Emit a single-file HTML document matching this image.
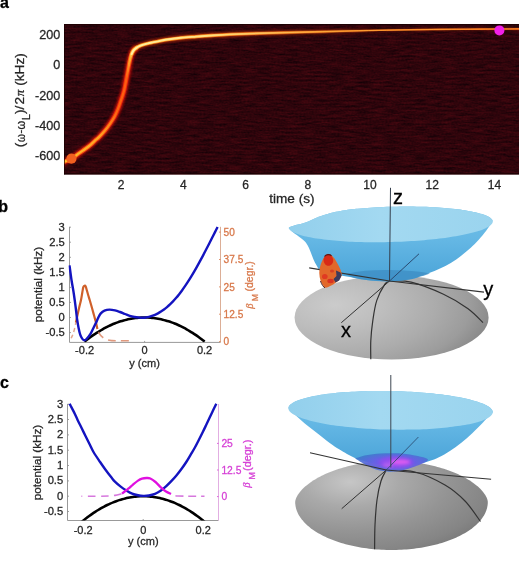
<!DOCTYPE html>
<html><head><meta charset="utf-8"><title>figure</title>
<style>
html,body{margin:0;padding:0;background:#fff;}
svg{display:block;font-family:'Liberation Sans', Arial, Helvetica, sans-serif;}
text{stroke:currentColor;stroke-width:0.28px;}
</style></head>
<body>
<svg width="520" height="571" viewBox="0 0 520 571">
<rect width="520" height="571" fill="#fff"/>

<defs>
  <clipPath id="clipA"><rect x="64.0" y="24.0" width="455.0" height="150.5"/></clipPath>
  <filter id="noise" x="0" y="0" width="100%" height="100%" color-interpolation-filters="sRGB">
    <feTurbulence type="fractalNoise" baseFrequency="0.07 0.5" numOctaves="2" seed="7" result="t1"/>
    <feColorMatrix in="t1" type="matrix" values="1 0 0 0 0  1 0 0 0 0  1 0 0 0 0  0 0 0 0 1" result="n1"/>
    <feTurbulence type="fractalNoise" baseFrequency="0.5 0.7" numOctaves="1" seed="3" result="t2"/>
    <feColorMatrix in="t2" type="matrix" values="1 0 0 0 0  1 0 0 0 0  1 0 0 0 0  0 0 0 0 1" result="n2"/>
    <feComposite in="n1" in2="n2" operator="arithmetic" k1="0" k2="0.65" k3="0.35" k4="0"/>
    <feComponentTransfer>
      <feFuncR type="linear" slope="0.38" intercept="-0.005"/>
      <feFuncG type="linear" slope="0.05" intercept="-0.005"/>
      <feFuncB type="linear" slope="0.07" intercept="0.012"/>
      <feFuncA type="linear" slope="0" intercept="1"/>
    </feComponentTransfer>
  </filter>
  <filter id="glow" x="-20%" y="-20%" width="140%" height="140%">
    <feGaussianBlur stdDeviation="1.0"/>
  </filter>
  <linearGradient id="gv" gradientUnits="userSpaceOnUse" x1="0" y1="166" x2="0" y2="44">
    <stop offset="0" stop-color="#ffc030"/>
    <stop offset="0.25" stop-color="#ffa020"/>
    <stop offset="0.45" stop-color="#ff6010"/>
    <stop offset="0.72" stop-color="#ff5a10"/>
    <stop offset="0.88" stop-color="#ffb030"/>
    <stop offset="1" stop-color="#fff0a0"/>
  </linearGradient>
  <linearGradient id="gvE" gradientUnits="userSpaceOnUse" x1="0" y1="166" x2="0" y2="44">
    <stop offset="0" stop-color="#ff6010"/>
    <stop offset="0.45" stop-color="#e82808"/>
    <stop offset="0.8" stop-color="#f03008"/>
    <stop offset="1" stop-color="#ffa020"/>
  </linearGradient>
  <linearGradient id="gh" gradientUnits="userSpaceOnUse" x1="132" y1="0" x2="520" y2="0">
    <stop offset="0" stop-color="#fff0a0"/>
    <stop offset="0.2" stop-color="#ffe080"/>
    <stop offset="0.5" stop-color="#ffb040"/>
    <stop offset="1" stop-color="#ff9030"/>
  </linearGradient>
  <linearGradient id="ghE" gradientUnits="userSpaceOnUse" x1="132" y1="0" x2="520" y2="0">
    <stop offset="0" stop-color="#ffa020"/>
    <stop offset="0.3" stop-color="#ff8018"/>
    <stop offset="1" stop-color="#e86010"/>
  </linearGradient>
</defs>
<linearGradient id="fadeG" gradientUnits="userSpaceOnUse" x1="200" y1="0" x2="380" y2="0">
  <stop offset="0" stop-color="#fff"/><stop offset="1" stop-color="#000"/></linearGradient>
<mask id="fadeM" maskUnits="userSpaceOnUse" x="0" y="0" width="520" height="200"><rect x="0" y="0" width="520" height="200" fill="url(#fadeG)"/></mask>
<g clip-path="url(#clipA)">
  <rect x="64.0" y="24.0" width="455.0" height="150.5" fill="#2a0405"/>
  <rect x="64.0" y="24.0" width="455.0" height="150.5" filter="url(#noise)"/>
  <path d="M61.00,163.60 C61.60,163.25 62.85,162.30 64.60,161.50 C66.35,160.70 69.07,160.20 71.50,158.80 C73.93,157.40 76.88,154.77 79.20,153.10 C81.52,151.43 83.47,150.22 85.40,148.80 C87.33,147.38 89.13,146.03 90.80,144.60 C92.47,143.17 94.08,141.40 95.40,140.20 C96.72,139.00 97.12,139.00 98.70,137.40 C100.28,135.80 103.00,132.90 104.90,130.60 C106.80,128.30 108.50,125.93 110.10,123.60 C111.70,121.27 113.18,119.05 114.50,116.60 C115.82,114.15 116.93,111.58 118.00,108.90 C119.07,106.22 120.18,102.57 120.90,100.50 C121.62,98.43 121.75,98.25 122.30,96.50 C122.85,94.75 123.65,92.25 124.20,90.00 C124.75,87.75 125.15,85.33 125.60,83.00 C126.05,80.67 126.47,78.33 126.90,76.00 C127.33,73.67 127.78,71.25 128.20,69.00 C128.62,66.75 129.03,64.33 129.40,62.50 C129.77,60.67 130.03,59.42 130.40,58.00 C130.77,56.58 131.07,55.28 131.60,54.00 C132.13,52.72 132.77,51.35 133.60,50.30 C134.43,49.25 136.10,48.13 136.60,47.70" fill="none" stroke="#c01008" stroke-width="7" filter="url(#glow)" opacity="0.85"/>
  <path d="M131.60,54.00 C131.93,53.38 132.77,51.35 133.60,50.30 C134.43,49.25 135.35,48.52 136.60,47.70 C137.85,46.88 139.33,46.08 141.10,45.40 C142.87,44.72 145.28,44.10 147.20,43.60 C149.12,43.10 150.80,42.77 152.60,42.40 C154.40,42.03 155.87,41.83 158.00,41.40 C160.13,40.97 161.60,40.40 165.40,39.80 C169.20,39.20 175.67,38.33 180.80,37.80 C185.93,37.27 191.08,36.98 196.20,36.60 C201.32,36.22 205.87,35.87 211.50,35.50 C217.13,35.13 221.92,34.77 230.00,34.40 C238.08,34.03 247.50,33.68 260.00,33.30 C272.50,32.92 291.67,32.45 305.00,32.10 C318.33,31.75 327.50,31.50 340.00,31.20 C352.50,30.90 363.33,30.60 380.00,30.30 C396.67,30.00 423.33,29.60 440.00,29.40 C456.67,29.20 466.33,29.18 480.00,29.10 C493.67,29.02 515.00,28.93 522.00,28.90" fill="none" stroke="#b03008" stroke-width="2.6" filter="url(#glow)" opacity="0.35"/>
  <path d="M131.60,54.00 C131.93,53.38 132.77,51.35 133.60,50.30 C134.43,49.25 135.35,48.52 136.60,47.70 C137.85,46.88 139.33,46.08 141.10,45.40 C142.87,44.72 145.28,44.10 147.20,43.60 C149.12,43.10 150.80,42.77 152.60,42.40 C154.40,42.03 155.87,41.83 158.00,41.40 C160.13,40.97 161.60,40.40 165.40,39.80 C169.20,39.20 175.67,38.33 180.80,37.80 C185.93,37.27 191.08,36.98 196.20,36.60 C201.32,36.22 205.87,35.87 211.50,35.50 C217.13,35.13 221.92,34.77 230.00,34.40 C238.08,34.03 247.50,33.68 260.00,33.30 C272.50,32.92 291.67,32.45 305.00,32.10 C318.33,31.75 327.50,31.50 340.00,31.20 C352.50,30.90 373.33,30.45 380.00,30.30" fill="none" stroke="#c03008" stroke-width="5.5" filter="url(#glow)" opacity="0.75" mask="url(#fadeM)"/>
  <path d="M61.00,163.60 C61.60,163.25 62.85,162.30 64.60,161.50 C66.35,160.70 69.07,160.20 71.50,158.80 C73.93,157.40 76.88,154.77 79.20,153.10 C81.52,151.43 83.47,150.22 85.40,148.80 C87.33,147.38 89.13,146.03 90.80,144.60 C92.47,143.17 94.08,141.40 95.40,140.20 C96.72,139.00 97.12,139.00 98.70,137.40 C100.28,135.80 103.00,132.90 104.90,130.60 C106.80,128.30 108.50,125.93 110.10,123.60 C111.70,121.27 113.18,119.05 114.50,116.60 C115.82,114.15 116.93,111.58 118.00,108.90 C119.07,106.22 120.18,102.57 120.90,100.50 C121.62,98.43 121.75,98.25 122.30,96.50 C122.85,94.75 123.65,92.25 124.20,90.00 C124.75,87.75 125.15,85.33 125.60,83.00 C126.05,80.67 126.47,78.33 126.90,76.00 C127.33,73.67 127.78,71.25 128.20,69.00 C128.62,66.75 129.03,64.33 129.40,62.50 C129.77,60.67 130.03,59.42 130.40,58.00 C130.77,56.58 131.07,55.28 131.60,54.00 C132.13,52.72 132.77,51.35 133.60,50.30 C134.43,49.25 136.10,48.13 136.60,47.70" fill="none" stroke="url(#gvE)" stroke-width="4.2" stroke-linecap="round"/>
  <path d="M131.60,54.00 C131.93,53.38 132.77,51.35 133.60,50.30 C134.43,49.25 135.35,48.52 136.60,47.70 C137.85,46.88 139.33,46.08 141.10,45.40 C142.87,44.72 145.28,44.10 147.20,43.60 C149.12,43.10 150.80,42.77 152.60,42.40 C154.40,42.03 155.87,41.83 158.00,41.40 C160.13,40.97 161.60,40.40 165.40,39.80 C169.20,39.20 175.67,38.33 180.80,37.80 C185.93,37.27 191.08,36.98 196.20,36.60 C201.32,36.22 205.87,35.87 211.50,35.50 C217.13,35.13 221.92,34.77 230.00,34.40 C238.08,34.03 247.50,33.68 260.00,33.30 C272.50,32.92 291.67,32.45 305.00,32.10 C318.33,31.75 327.50,31.50 340.00,31.20 C352.50,30.90 363.33,30.60 380.00,30.30 C396.67,30.00 423.33,29.60 440.00,29.40 C456.67,29.20 466.33,29.18 480.00,29.10 C493.67,29.02 515.00,28.93 522.00,28.90" fill="none" stroke="url(#ghE)" stroke-width="1.6" stroke-linecap="round"/>
  <path d="M131.60,54.00 C131.93,53.38 132.77,51.35 133.60,50.30 C134.43,49.25 135.35,48.52 136.60,47.70 C137.85,46.88 139.33,46.08 141.10,45.40 C142.87,44.72 145.28,44.10 147.20,43.60 C149.12,43.10 150.80,42.77 152.60,42.40 C154.40,42.03 155.87,41.83 158.00,41.40 C160.13,40.97 161.60,40.40 165.40,39.80 C169.20,39.20 175.67,38.33 180.80,37.80 C185.93,37.27 191.08,36.98 196.20,36.60 C201.32,36.22 205.87,35.87 211.50,35.50 C217.13,35.13 221.92,34.77 230.00,34.40 C238.08,34.03 247.50,33.68 260.00,33.30 C272.50,32.92 291.67,32.45 305.00,32.10 C318.33,31.75 327.50,31.50 340.00,31.20 C352.50,30.90 373.33,30.45 380.00,30.30" fill="none" stroke="url(#ghE)" stroke-width="3.3" stroke-linecap="round" mask="url(#fadeM)"/>
  <path d="M61.00,163.60 C61.60,163.25 62.85,162.30 64.60,161.50 C66.35,160.70 69.07,160.20 71.50,158.80 C73.93,157.40 76.88,154.77 79.20,153.10 C81.52,151.43 83.47,150.22 85.40,148.80 C87.33,147.38 89.13,146.03 90.80,144.60 C92.47,143.17 94.08,141.40 95.40,140.20 C96.72,139.00 97.12,139.00 98.70,137.40 C100.28,135.80 103.00,132.90 104.90,130.60 C106.80,128.30 108.50,125.93 110.10,123.60 C111.70,121.27 113.18,119.05 114.50,116.60 C115.82,114.15 116.93,111.58 118.00,108.90 C119.07,106.22 120.18,102.57 120.90,100.50 C121.62,98.43 121.75,98.25 122.30,96.50 C122.85,94.75 123.65,92.25 124.20,90.00 C124.75,87.75 125.15,85.33 125.60,83.00 C126.05,80.67 126.47,78.33 126.90,76.00 C127.33,73.67 127.78,71.25 128.20,69.00 C128.62,66.75 129.03,64.33 129.40,62.50 C129.77,60.67 130.03,59.42 130.40,58.00 C130.77,56.58 131.07,55.28 131.60,54.00 C132.13,52.72 132.77,51.35 133.60,50.30 C134.43,49.25 136.10,48.13 136.60,47.70" fill="none" stroke="url(#gv)" stroke-width="2.3" stroke-linecap="round"/>
  <path d="M131.60,54.00 C131.93,53.38 132.77,51.35 133.60,50.30 C134.43,49.25 135.35,48.52 136.60,47.70 C137.85,46.88 139.33,46.08 141.10,45.40 C142.87,44.72 145.28,44.10 147.20,43.60 C149.12,43.10 150.80,42.77 152.60,42.40 C154.40,42.03 155.87,41.83 158.00,41.40 C160.13,40.97 161.60,40.40 165.40,39.80 C169.20,39.20 175.67,38.33 180.80,37.80 C185.93,37.27 191.08,36.98 196.20,36.60 C201.32,36.22 205.87,35.87 211.50,35.50 C217.13,35.13 221.92,34.77 230.00,34.40 C238.08,34.03 247.50,33.68 260.00,33.30 C272.50,32.92 291.67,32.45 305.00,32.10 C318.33,31.75 327.50,31.50 340.00,31.20 C352.50,30.90 363.33,30.60 380.00,30.30 C396.67,30.00 423.33,29.60 440.00,29.40 C456.67,29.20 466.33,29.18 480.00,29.10 C493.67,29.02 515.00,28.93 522.00,28.90" fill="none" stroke="url(#gh)" stroke-width="0.8" stroke-linecap="round"/>
  <path d="M131.60,54.00 C131.93,53.38 132.77,51.35 133.60,50.30 C134.43,49.25 135.35,48.52 136.60,47.70 C137.85,46.88 139.33,46.08 141.10,45.40 C142.87,44.72 145.28,44.10 147.20,43.60 C149.12,43.10 150.80,42.77 152.60,42.40 C154.40,42.03 155.87,41.83 158.00,41.40 C160.13,40.97 161.60,40.40 165.40,39.80 C169.20,39.20 175.67,38.33 180.80,37.80 C185.93,37.27 191.08,36.98 196.20,36.60 C201.32,36.22 205.87,35.87 211.50,35.50 C217.13,35.13 221.92,34.77 230.00,34.40 C238.08,34.03 247.50,33.68 260.00,33.30 C272.50,32.92 291.67,32.45 305.00,32.10 C318.33,31.75 327.50,31.50 340.00,31.20 C352.50,30.90 373.33,30.45 380.00,30.30" fill="none" stroke="url(#gh)" stroke-width="1.9" stroke-linecap="round" mask="url(#fadeM)"/>
  <path d="M64.5,174.5 V24.5 H519.0" fill="none" stroke="#180000" stroke-width="1" opacity="0.7"/>
  <path d="M64.0,173.7 H519.0" fill="none" stroke="#180000" stroke-width="1.5" opacity="0.6"/>
  <circle cx="71.4" cy="158.7" r="5.1" fill="#f26020"/>
  <circle cx="499.4" cy="30.4" r="5.0" fill="#f020e8"/>
</g>

<text x="60.2" y="39.1" text-anchor="end" font-size="12.6" fill="#262626" color="#262626">200</text>
<text x="60.2" y="69.3" text-anchor="end" font-size="12.6" fill="#262626" color="#262626">0</text>
<text x="60.2" y="99.5" text-anchor="end" font-size="12.6" fill="#262626" color="#262626">-200</text>
<text x="60.2" y="129.7" text-anchor="end" font-size="12.6" fill="#262626" color="#262626">-400</text>
<text x="60.2" y="159.9" text-anchor="end" font-size="12.6" fill="#262626" color="#262626">-600</text>
<text x="121.2" y="188.5" text-anchor="middle" font-size="12" fill="#262626" color="#262626">2</text>
<text x="183.4" y="188.5" text-anchor="middle" font-size="12" fill="#262626" color="#262626">4</text>
<text x="245.6" y="188.5" text-anchor="middle" font-size="12" fill="#262626" color="#262626">6</text>
<text x="307.8" y="188.5" text-anchor="middle" font-size="12" fill="#262626" color="#262626">8</text>
<text x="370.0" y="188.5" text-anchor="middle" font-size="12" fill="#262626" color="#262626">10</text>
<text x="432.2" y="188.5" text-anchor="middle" font-size="12" fill="#262626" color="#262626">12</text>
<text x="494.4" y="188.5" text-anchor="middle" font-size="12" fill="#262626" color="#262626">14</text>
<text x="269.2" y="202.7" font-size="13.6" fill="#262626" color="#262626">time (s)</text>
<text transform="translate(24.2,147.3) rotate(-90)" font-size="13.7" fill="#262626"  color="#262626">(</text>
<text transform="translate(24.5,141.9) rotate(-90) scale(0.8,1)" font-size="12.6" fill="#262626"  color="#262626">ω</text>
<text transform="translate(24.2,133.6) rotate(-90)" font-size="11" fill="#262626"  color="#262626">-</text>
<text transform="translate(24.5,129.6) rotate(-90) scale(0.88,1)" font-size="12.6" fill="#262626"  color="#262626">ω</text>
<text transform="translate(30.4,119.9) rotate(-90)" font-size="10.6" fill="#262626"  color="#262626">L</text>
<text transform="translate(24.2,113.9) rotate(-90)" font-size="13.7" fill="#262626"  color="#262626">)</text>
<text transform="translate(24.2,109.4) rotate(-90)" font-size="13.7" fill="#262626"  color="#262626">/</text>
<text transform="translate(24.2,104.6) rotate(-90)" font-size="13.7" fill="#262626"  color="#262626">2</text>
<text transform="translate(24.2,96.3) rotate(-90)" font-size="13" fill="#262626" font-family="'Liberation Serif', serif" font-style="italic" color="#262626">π</text>
<text transform="translate(24.2,85.8) rotate(-90)" font-size="13.7" fill="#262626"  color="#262626">(kHz)</text>
<text x="0" y="8" font-size="16" font-weight="bold" fill="#000" color="#000">a</text>
<text x="-1.8" y="212.3" font-size="16" font-weight="bold" fill="#000" color="#000">b</text>
<text x="0" y="388.3" font-size="16" font-weight="bold" fill="#000" color="#000">c</text>
<defs><clipPath id="clipB"><rect x="68.5" y="224.8" width="151.0" height="117.59999999999997"/></clipPath></defs>
<path d="M69.5,226.8 V342.4 H220.5" fill="none" stroke="#999" stroke-width="1"/>
<path d="M220.5,226.8 V342.4" fill="none" stroke="#dcae96" stroke-width="1"/>
<path d="M69.5,332.6 h1.5" stroke="#8a8a8a" stroke-width="0.8"/>
<text x="64.8" y="335.9" text-anchor="end" font-size="11.2" fill="#262626" color="#262626">-0.5</text>
<path d="M69.5,317.5 h1.5" stroke="#8a8a8a" stroke-width="0.8"/>
<text x="64.8" y="320.8" text-anchor="end" font-size="11.2" fill="#262626" color="#262626">0</text>
<path d="M69.5,302.4 h1.5" stroke="#8a8a8a" stroke-width="0.8"/>
<text x="64.8" y="305.8" text-anchor="end" font-size="11.2" fill="#262626" color="#262626">0.5</text>
<path d="M69.5,287.4 h1.5" stroke="#8a8a8a" stroke-width="0.8"/>
<text x="64.8" y="290.7" text-anchor="end" font-size="11.2" fill="#262626" color="#262626">1</text>
<path d="M69.5,272.4 h1.5" stroke="#8a8a8a" stroke-width="0.8"/>
<text x="64.8" y="275.7" text-anchor="end" font-size="11.2" fill="#262626" color="#262626">1.5</text>
<path d="M69.5,257.3 h1.5" stroke="#8a8a8a" stroke-width="0.8"/>
<text x="64.8" y="260.6" text-anchor="end" font-size="11.2" fill="#262626" color="#262626">2</text>
<path d="M69.5,242.2 h1.5" stroke="#8a8a8a" stroke-width="0.8"/>
<text x="64.8" y="245.6" text-anchor="end" font-size="11.2" fill="#262626" color="#262626">2.5</text>
<path d="M69.5,227.2 h1.5" stroke="#8a8a8a" stroke-width="0.8"/>
<text x="64.8" y="230.5" text-anchor="end" font-size="11.2" fill="#262626" color="#262626">3</text>
<path d="M220.5,341.6 h-1.5" stroke="#d8784a" stroke-width="0.8"/>
<text x="223.6" y="345.2" font-size="10.1" fill="#d8784a" color="#d8784a">0</text>
<path d="M220.5,314.2 h-1.5" stroke="#d8784a" stroke-width="0.8"/>
<text x="223.6" y="317.8" font-size="10.1" fill="#d8784a" color="#d8784a">12.5</text>
<path d="M220.5,286.9 h-1.5" stroke="#d8784a" stroke-width="0.8"/>
<text x="223.6" y="290.5" font-size="10.1" fill="#d8784a" color="#d8784a">25</text>
<path d="M220.5,259.5 h-1.5" stroke="#d8784a" stroke-width="0.8"/>
<text x="223.6" y="263.1" font-size="10.1" fill="#d8784a" color="#d8784a">37.5</text>
<path d="M220.5,232.1 h-1.5" stroke="#d8784a" stroke-width="0.8"/>
<text x="223.6" y="235.7" font-size="10.1" fill="#d8784a" color="#d8784a">50</text>
<path d="M84.6,342.4 v-1.5" stroke="#8a8a8a" stroke-width="0.8"/>
<text x="84.6" y="354.4" text-anchor="middle" font-size="11" fill="#262626" color="#262626">-0.2</text>
<path d="M144.6,342.4 v-1.5" stroke="#8a8a8a" stroke-width="0.8"/>
<text x="144.6" y="354.4" text-anchor="middle" font-size="11" fill="#262626" color="#262626">0</text>
<path d="M204.6,342.4 v-1.5" stroke="#8a8a8a" stroke-width="0.8"/>
<text x="204.6" y="354.4" text-anchor="middle" font-size="11" fill="#262626" color="#262626">0.2</text>
<text x="144.6" y="366.5" text-anchor="middle" font-size="11" fill="#262626" color="#262626">y (cm)</text>
<text transform="translate(41.7,284.6) rotate(-90)" text-anchor="middle" font-size="11.7" fill="#262626" color="#262626">potential (kHz)</text>
<text transform="translate(253.0,308.7) rotate(-90)" font-size="10.5" fill="#d8784a" font-family="'Liberation Serif', serif" font-style="italic" color="#d8784a">β</text>
<text transform="translate(258.0,301.3) rotate(-90)" font-size="8.8" fill="#d8784a"  color="#d8784a">M</text>
<text transform="translate(253.0,291.5) rotate(-90)" font-size="10.5" fill="#d8784a"  color="#d8784a">(degr.)</text>
<g clip-path="url(#clipB)">
<path d="M84.60,341.58 C85.10,341.19 86.60,339.99 87.60,339.23 C88.60,338.47 89.60,337.73 90.60,337.00 C91.60,336.28 92.60,335.58 93.60,334.90 C94.60,334.22 95.60,333.55 96.60,332.91 C97.60,332.27 98.60,331.65 99.60,331.05 C100.60,330.44 101.60,329.86 102.60,329.30 C103.60,328.74 104.60,328.20 105.60,327.67 C106.60,327.15 107.60,326.65 108.60,326.17 C109.60,325.69 110.60,325.23 111.60,324.78 C112.60,324.34 113.60,323.92 114.60,323.52 C115.60,323.12 116.60,322.74 117.60,322.38 C118.60,322.01 119.60,321.67 120.60,321.35 C121.60,321.03 122.60,320.73 123.60,320.45 C124.60,320.17 125.60,319.91 126.60,319.67 C127.60,319.43 128.60,319.21 129.60,319.00 C130.60,318.80 131.60,318.62 132.60,318.46 C133.60,318.30 134.60,318.16 135.60,318.04 C136.60,317.92 137.60,317.82 138.60,317.74 C139.60,317.66 140.60,317.60 141.60,317.56 C142.60,317.52 143.60,317.50 144.60,317.50 C145.60,317.50 146.60,317.52 147.60,317.56 C148.60,317.60 149.60,317.66 150.60,317.74 C151.60,317.82 152.60,317.92 153.60,318.04 C154.60,318.16 155.60,318.30 156.60,318.46 C157.60,318.62 158.60,318.80 159.60,319.00 C160.60,319.21 161.60,319.43 162.60,319.67 C163.60,319.91 164.60,320.17 165.60,320.45 C166.60,320.73 167.60,321.03 168.60,321.35 C169.60,321.67 170.60,322.01 171.60,322.38 C172.60,322.74 173.60,323.12 174.60,323.52 C175.60,323.92 176.60,324.34 177.60,324.78 C178.60,325.23 179.60,325.69 180.60,326.17 C181.60,326.65 182.60,327.15 183.60,327.67 C184.60,328.20 185.60,328.74 186.60,329.30 C187.60,329.86 188.60,330.44 189.60,331.05 C190.60,331.65 191.60,332.27 192.60,332.91 C193.60,333.55 194.60,334.22 195.60,334.90 C196.60,335.58 197.60,336.28 198.60,337.00 C199.60,337.73 200.60,338.47 201.60,339.23 C202.60,339.99 204.10,341.19 204.60,341.58" fill="none" stroke="#000" stroke-width="2.6"/>
<path d="M69.80,341.00 C70.08,340.42 70.95,338.68 71.50,337.50 C72.05,336.32 72.58,335.38 73.10,333.90 C73.62,332.42 74.13,330.50 74.60,328.60 C75.07,326.70 75.68,323.52 75.90,322.50" fill="none" stroke="#d8805e" stroke-width="1.5" stroke-dasharray="4,3" stroke-dashoffset="4" opacity="0.7"/>
<path d="M97.40,329.00 C97.72,329.75 98.45,332.13 99.30,333.50 C100.15,334.87 101.17,336.15 102.50,337.20 C103.83,338.25 105.72,339.23 107.30,339.80 C108.88,340.37 109.88,340.43 112.00,340.60 C114.12,340.77 116.47,340.77 120.00,340.80 C123.53,340.83 131.00,340.80 133.20,340.80" fill="none" stroke="#d8805e" stroke-width="1.6" stroke-dasharray="7.8,5.2" stroke-dashoffset="10" opacity="0.8"/>
<path d="M75.90,322.50 C76.17,321.25 76.93,317.58 77.50,315.00 C78.07,312.42 78.72,309.50 79.30,307.00 C79.88,304.50 80.50,302.42 81.00,300.00 C81.50,297.58 81.92,294.63 82.30,292.50 C82.68,290.37 82.93,288.32 83.30,287.20 C83.67,286.08 84.10,285.93 84.50,285.80 C84.90,285.67 85.30,285.62 85.70,286.40 C86.10,287.18 86.45,288.93 86.90,290.50 C87.35,292.07 87.93,294.22 88.40,295.80 C88.87,297.38 89.10,297.97 89.70,300.00 C90.30,302.03 91.28,305.45 92.00,308.00 C92.72,310.55 93.33,312.88 94.00,315.30 C94.67,317.72 95.43,320.22 96.00,322.50 C96.57,324.78 97.17,327.92 97.40,329.00" fill="none" stroke="#d0602a" stroke-width="2.2"/>
<path d="M69.50,265.40 C69.83,267.83 70.87,275.82 71.50,280.00 C72.13,284.18 72.77,287.17 73.30,290.50 C73.83,293.83 74.25,296.75 74.70,300.00 C75.15,303.25 75.60,306.80 76.00,310.00 C76.40,313.20 76.67,316.20 77.10,319.20 C77.53,322.20 78.08,325.43 78.60,328.00 C79.12,330.57 79.60,332.83 80.20,334.60 C80.80,336.37 81.53,337.65 82.20,338.60 C82.87,339.55 83.48,340.23 84.20,340.30 C84.92,340.37 85.45,340.07 86.50,339.00 C87.55,337.93 89.38,335.65 90.50,333.90 C91.62,332.15 92.28,330.35 93.20,328.50 C94.12,326.65 95.15,324.62 96.00,322.80 C96.85,320.98 97.50,319.17 98.30,317.60 C99.10,316.03 99.77,314.57 100.80,313.40 C101.83,312.23 103.05,311.23 104.50,310.60 C105.95,309.97 107.75,309.63 109.50,309.60 C111.25,309.57 113.25,310.00 115.00,310.40 C116.75,310.80 118.33,311.40 120.00,312.00 C121.67,312.60 123.38,313.35 125.00,314.00 C126.62,314.65 128.12,315.40 129.70,315.90 C131.28,316.40 132.90,316.72 134.50,317.00 C136.10,317.28 137.88,317.47 139.30,317.60 C140.72,317.73 141.88,317.79 143.00,317.75 C144.12,317.72 145.00,317.56 146.00,317.40 C147.00,317.24 148.00,317.04 149.00,316.80 C150.00,316.55 151.00,316.26 152.00,315.93 C153.00,315.59 154.00,315.21 155.00,314.78 C156.00,314.34 157.00,313.86 158.00,313.33 C159.00,312.79 160.00,312.21 161.00,311.57 C162.00,310.94 163.00,310.25 164.00,309.51 C165.00,308.77 166.00,307.97 167.00,307.12 C168.00,306.27 169.00,305.37 170.00,304.42 C171.00,303.46 172.00,302.45 173.00,301.39 C174.00,300.33 175.00,299.21 176.00,298.05 C177.00,296.88 178.00,295.66 179.00,294.39 C180.00,293.13 181.00,291.81 182.00,290.44 C183.00,289.07 184.00,287.65 185.00,286.19 C186.00,284.73 187.00,283.22 188.00,281.67 C189.00,280.11 190.00,278.52 191.00,276.88 C192.00,275.25 193.00,273.57 194.00,271.85 C195.00,270.14 196.00,268.39 197.00,266.61 C198.00,264.83 199.00,263.01 200.00,261.17 C201.00,259.33 202.00,257.45 203.00,255.56 C204.00,253.67 205.00,251.74 206.00,249.81 C207.00,247.88 208.00,245.92 209.00,243.96 C210.00,242.00 211.00,240.02 212.00,238.04 C213.00,236.06 214.07,233.94 215.00,232.09 C215.93,230.24 217.17,227.80 217.60,226.94" fill="none" stroke="#1414c0" stroke-width="2.4"/>
</g>
<defs><clipPath id="clipC"><rect x="67.5" y="402.0" width="151.0" height="118.5"/></clipPath></defs>
<path d="M67.5,404.0 V520.5 H218.5" fill="none" stroke="#999" stroke-width="1"/>
<path d="M218.5,404.0 V520.5" fill="none" stroke="#e2aee2" stroke-width="1"/>
<path d="M67.5,511.5 h1.5" stroke="#8a8a8a" stroke-width="0.8"/>
<text x="63.2" y="515.0" text-anchor="end" font-size="11.2" fill="#262626" color="#262626">-0.5</text>
<path d="M67.5,496.2 h1.5" stroke="#8a8a8a" stroke-width="0.8"/>
<text x="63.2" y="499.7" text-anchor="end" font-size="11.2" fill="#262626" color="#262626">0</text>
<path d="M67.5,480.9 h1.5" stroke="#8a8a8a" stroke-width="0.8"/>
<text x="63.2" y="484.4" text-anchor="end" font-size="11.2" fill="#262626" color="#262626">0.5</text>
<path d="M67.5,465.5 h1.5" stroke="#8a8a8a" stroke-width="0.8"/>
<text x="63.2" y="469.0" text-anchor="end" font-size="11.2" fill="#262626" color="#262626">1</text>
<path d="M67.5,450.2 h1.5" stroke="#8a8a8a" stroke-width="0.8"/>
<text x="63.2" y="453.7" text-anchor="end" font-size="11.2" fill="#262626" color="#262626">1.5</text>
<path d="M67.5,434.9 h1.5" stroke="#8a8a8a" stroke-width="0.8"/>
<text x="63.2" y="438.4" text-anchor="end" font-size="11.2" fill="#262626" color="#262626">2</text>
<path d="M67.5,419.5 h1.5" stroke="#8a8a8a" stroke-width="0.8"/>
<text x="63.2" y="423.0" text-anchor="end" font-size="11.2" fill="#262626" color="#262626">2.5</text>
<path d="M67.5,404.2 h1.5" stroke="#8a8a8a" stroke-width="0.8"/>
<text x="63.2" y="407.7" text-anchor="end" font-size="11.2" fill="#262626" color="#262626">3</text>
<path d="M218.5,496.6 h-1.5" stroke="#d640d6" stroke-width="0.8"/>
<text x="221.4" y="500.2" font-size="10.3" fill="#d640d6" color="#d640d6">0</text>
<path d="M218.5,470.0 h-1.5" stroke="#d640d6" stroke-width="0.8"/>
<text x="221.4" y="473.6" font-size="10.3" fill="#d640d6" color="#d640d6">12.5</text>
<path d="M218.5,443.4 h-1.5" stroke="#d640d6" stroke-width="0.8"/>
<text x="221.4" y="447.0" font-size="10.3" fill="#d640d6" color="#d640d6">25</text>
<path d="M83.2,520.5 v-1.5" stroke="#8a8a8a" stroke-width="0.8"/>
<text x="83.2" y="534" text-anchor="middle" font-size="11" fill="#262626" color="#262626">-0.2</text>
<path d="M143.2,520.5 v-1.5" stroke="#8a8a8a" stroke-width="0.8"/>
<text x="143.2" y="534" text-anchor="middle" font-size="11" fill="#262626" color="#262626">0</text>
<path d="M203.2,520.5 v-1.5" stroke="#8a8a8a" stroke-width="0.8"/>
<text x="203.2" y="534" text-anchor="middle" font-size="11" fill="#262626" color="#262626">0.2</text>
<text x="143.3" y="545.3" text-anchor="middle" font-size="11" fill="#262626" color="#262626">y (cm)</text>
<text transform="translate(40.8,462.5) rotate(-90)" text-anchor="middle" font-size="11.7" fill="#262626" color="#262626">potential (kHz)</text>
<text transform="translate(250.0,487.8) rotate(-90)" font-size="10.8" fill="#d640d6" font-family="'Liberation Serif', serif" font-style="italic" color="#d640d6">β</text>
<text transform="translate(255.0,479.4) rotate(-90)" font-size="9" fill="#d640d6"  color="#d640d6">M</text>
<text transform="translate(251.0,471.0) rotate(-90)" font-size="10.9" fill="#d640d6"  color="#d640d6">(degr.)</text>
<g clip-path="url(#clipC)">
<path d="M80.20,523.25 C80.70,522.83 82.20,521.55 83.20,520.74 C84.20,519.92 85.20,519.12 86.20,518.34 C87.20,517.57 88.20,516.81 89.20,516.07 C90.20,515.34 91.20,514.62 92.20,513.93 C93.20,513.23 94.20,512.56 95.20,511.90 C96.20,511.25 97.20,510.61 98.20,510.00 C99.20,509.39 100.20,508.80 101.20,508.22 C102.20,507.65 103.20,507.10 104.20,506.57 C105.20,506.03 106.20,505.52 107.20,505.03 C108.20,504.54 109.20,504.07 110.20,503.62 C111.20,503.17 112.20,502.74 113.20,502.33 C114.20,501.93 115.20,501.54 116.20,501.17 C117.20,500.80 118.20,500.45 119.20,500.13 C120.20,499.80 121.20,499.49 122.20,499.21 C123.20,498.92 124.20,498.65 125.20,498.41 C126.20,498.16 127.20,497.94 128.20,497.73 C129.20,497.53 130.20,497.35 131.20,497.18 C132.20,497.02 133.20,496.87 134.20,496.75 C135.20,496.63 136.20,496.53 137.20,496.45 C138.20,496.36 139.20,496.30 140.20,496.26 C141.20,496.22 142.20,496.20 143.20,496.20 C144.20,496.20 145.20,496.22 146.20,496.26 C147.20,496.30 148.20,496.36 149.20,496.45 C150.20,496.53 151.20,496.63 152.20,496.75 C153.20,496.87 154.20,497.02 155.20,497.18 C156.20,497.35 157.20,497.53 158.20,497.73 C159.20,497.94 160.20,498.16 161.20,498.41 C162.20,498.65 163.20,498.92 164.20,499.21 C165.20,499.49 166.20,499.80 167.20,500.13 C168.20,500.45 169.20,500.80 170.20,501.17 C171.20,501.54 172.20,501.93 173.20,502.33 C174.20,502.74 175.20,503.17 176.20,503.62 C177.20,504.07 178.20,504.54 179.20,505.03 C180.20,505.52 181.20,506.03 182.20,506.57 C183.20,507.10 184.20,507.65 185.20,508.22 C186.20,508.80 187.20,509.39 188.20,510.00 C189.20,510.61 190.20,511.25 191.20,511.90 C192.20,512.56 193.20,513.23 194.20,513.93 C195.20,514.62 196.20,515.34 197.20,516.07 C198.20,516.81 199.20,517.57 200.20,518.34 C201.20,519.12 202.20,519.92 203.20,520.74 C204.20,521.55 205.70,522.83 206.20,523.25" fill="none" stroke="#000" stroke-width="2.6"/>
<path d="M81.40,496.20 C84.50,496.20 95.23,496.23 100.00,496.20 C104.77,496.17 107.50,496.13 110.00,496.00 C112.50,495.87 113.50,495.63 115.00,495.40 C116.50,495.17 117.83,494.90 119.00,494.60 C120.17,494.30 121.50,493.77 122.00,493.60" fill="none" stroke="#cc55d4" stroke-width="1.6" stroke-dasharray="7.5,5.5" stroke-dashoffset="6.4" opacity="0.8"/>
<path d="M171.00,494.00 C171.50,494.22 172.83,494.97 174.00,495.30 C175.17,495.63 175.33,495.85 178.00,496.00 C180.67,496.15 185.58,496.17 190.00,496.20 C194.42,496.23 202.08,496.20 204.50,496.20" fill="none" stroke="#cc55d4" stroke-width="1.6" stroke-dasharray="8,4.8" stroke-dashoffset="8" opacity="0.8"/>
<path d="M69.60,403.80 C69.75,404.08 69.75,404.07 70.50,405.50 C71.25,406.93 72.92,410.00 74.10,412.40 C75.28,414.80 76.35,417.30 77.60,419.90 C78.85,422.50 80.28,425.32 81.60,428.00 C82.92,430.68 84.18,433.33 85.50,436.00 C86.82,438.67 88.17,441.33 89.50,444.00 C90.83,446.67 91.73,449.00 93.50,452.00 C95.27,455.00 98.07,459.00 100.10,462.00 C102.13,465.00 103.80,467.40 105.70,470.00 C107.60,472.60 109.97,475.67 111.50,477.60 C113.03,479.53 113.37,480.10 114.90,481.60 C116.43,483.10 118.78,485.12 120.70,486.60 C122.62,488.08 124.48,489.32 126.40,490.50 C128.32,491.68 130.27,492.90 132.20,493.70 C134.13,494.50 136.12,494.93 138.00,495.30 C139.88,495.67 141.67,495.87 143.50,495.90 C145.33,495.93 147.08,495.83 149.00,495.50 C150.92,495.17 153.07,494.68 155.00,493.90 C156.93,493.12 158.77,492.05 160.60,490.80 C162.43,489.55 164.22,488.00 166.00,486.40 C167.78,484.80 169.57,483.02 171.30,481.20 C173.03,479.38 174.65,477.62 176.40,475.50 C178.15,473.38 180.10,470.83 181.80,468.50 C183.50,466.17 185.12,463.82 186.60,461.50 C188.08,459.18 189.32,456.93 190.70,454.60 C192.08,452.27 193.55,449.93 194.90,447.50 C196.25,445.07 197.48,442.58 198.80,440.00 C200.12,437.42 201.53,434.58 202.80,432.00 C204.07,429.42 205.23,426.95 206.40,424.50 C207.57,422.05 208.70,419.63 209.80,417.30 C210.90,414.97 211.92,412.75 213.00,410.50 C214.08,408.25 215.75,404.92 216.30,403.80" fill="none" stroke="#1414c0" stroke-width="2.4"/>
<path d="M122.00,493.60 C122.73,493.03 125.23,491.10 126.40,490.20 C127.57,489.30 127.90,489.13 129.00,488.20 C130.10,487.27 131.50,485.87 133.00,484.60 C134.50,483.33 136.50,481.60 138.00,480.60 C139.50,479.60 140.58,479.03 142.00,478.60 C143.42,478.17 145.12,478.02 146.50,478.00 C147.88,477.98 148.80,477.83 150.30,478.50 C151.80,479.17 153.75,480.53 155.50,482.00 C157.25,483.47 159.05,485.72 160.80,487.30 C162.55,488.88 164.30,490.38 166.00,491.50 C167.70,492.62 170.17,493.58 171.00,494.00" fill="none" stroke="#e010e0" stroke-width="2.3"/>
</g>
<defs>
 <radialGradient id="grayB" gradientUnits="userSpaceOnUse" cx="335" cy="305" r="165" fx="335" fy="305" gradientTransform="translate(335,305) scale(1,0.5) translate(-335,-305)">
   <stop offset="0" stop-color="#cbcbcb"/>
   <stop offset="0.3" stop-color="#bdbdbd"/>
   <stop offset="0.6" stop-color="#acacac"/>
   <stop offset="0.82" stop-color="#9c9c9c"/>
   <stop offset="1" stop-color="#848484"/>
 </radialGradient>
 <radialGradient id="grayC" gradientUnits="userSpaceOnUse" cx="350" cy="482" r="165" fx="350" fy="482" gradientTransform="translate(350,482) scale(1,0.5) translate(-350,-482)">
   <stop offset="0" stop-color="#c6c6c6"/>
   <stop offset="0.3" stop-color="#a9a9a9"/>
   <stop offset="0.6" stop-color="#949494"/>
   <stop offset="0.85" stop-color="#858585"/>
   <stop offset="1" stop-color="#767676"/>
 </radialGradient>
 <linearGradient id="bowlOut" x1="0" y1="0" x2="0" y2="1">
   <stop offset="0" stop-color="#70c0e8"/>
   <stop offset="0.45" stop-color="#64b7e4"/>
   <stop offset="1" stop-color="#4aa3d8"/>
 </linearGradient>
 <linearGradient id="bowlIn" x1="0" y1="0" x2="1" y2="0">
   <stop offset="0" stop-color="#92cfec"/>
   <stop offset="0.45" stop-color="#a3d9f1"/>
   <stop offset="1" stop-color="#9ad4ee"/>
 </linearGradient>
 <radialGradient id="purple" cx="0.5" cy="0.5" r="0.5">
   <stop offset="0" stop-color="#f050f0"/>
   <stop offset="0.4" stop-color="#c050f0"/>
   <stop offset="0.8" stop-color="#7a5ae8" stop-opacity="0.8"/>
   <stop offset="1" stop-color="#6060e0" stop-opacity="0"/>
 </radialGradient>
</defs>
<ellipse cx="391.6" cy="317.5" rx="97" ry="42" fill="url(#grayB)"/>
<path d="M389.50,281.00 C388.73,281.53 387.02,280.97 384.90,284.20 C382.78,287.43 378.82,294.33 376.80,300.40 C374.78,306.47 373.80,313.87 372.80,320.60 C371.80,327.33 371.13,334.35 370.80,340.80 C370.47,347.25 370.80,356.22 370.80,359.30" fill="none" stroke="#333333" stroke-width="1.2"/>
<path d="M389.50,281.00 C393.12,281.20 402.20,279.98 411.20,282.20 C420.20,284.42 434.08,289.92 443.50,294.30 C452.92,298.68 461.12,303.78 467.70,308.50 C474.28,313.22 480.45,320.25 483.00,322.60" fill="none" stroke="#333333" stroke-width="1.2"/>
<path d="M288.70,227.90 C289.15,228.42 289.73,229.57 291.40,231.00 C293.07,232.43 296.45,234.77 298.70,236.50 C300.95,238.23 303.27,239.67 304.90,241.40 C306.53,243.13 307.48,244.97 308.50,246.90 C309.52,248.83 310.18,250.95 311.00,253.00 C311.82,255.05 312.48,257.15 313.40,259.20 C314.32,261.25 315.47,263.47 316.50,265.30 C317.53,267.13 318.02,268.83 319.60,270.20 C321.18,271.57 322.93,272.70 326.00,273.50 C329.07,274.30 334.00,274.42 338.00,275.00 C342.00,275.58 345.30,276.17 350.00,277.00 C354.70,277.83 359.65,279.28 366.20,280.00 C372.75,280.72 381.62,281.48 389.30,281.30 C396.98,281.12 407.18,279.73 412.30,278.90 C417.42,278.07 417.18,277.27 420.00,276.30 C422.82,275.33 425.87,274.38 429.20,273.10 C432.53,271.82 436.40,270.28 440.00,268.60 C443.60,266.92 447.22,265.20 450.80,263.00 C454.38,260.80 458.17,257.95 461.50,255.40 C464.83,252.85 467.97,250.27 470.80,247.70 C473.63,245.13 475.93,242.82 478.50,240.00 C481.07,237.18 483.90,233.88 486.20,230.80 C488.50,227.72 491.28,223.05 492.30,221.50 C492.72,221.36 492.67,220.79 492.51,220.41 C492.35,220.03 492.12,219.65 491.82,219.28 C491.52,218.91 491.15,218.54 490.71,218.17 C490.26,217.81 489.74,217.45 489.16,217.10 C488.57,216.74 487.92,216.39 487.19,216.05 C486.47,215.70 485.67,215.37 484.81,215.04 C483.95,214.71 483.02,214.38 482.03,214.06 C481.04,213.75 479.98,213.44 478.85,213.14 C477.73,212.84 476.55,212.54 475.30,212.26 C474.06,211.97 472.75,211.70 471.39,211.43 C470.03,211.16 468.61,210.91 467.13,210.66 C465.66,210.41 464.13,210.17 462.55,209.95 C460.97,209.72 459.34,209.50 457.66,209.29 C455.98,209.09 454.25,208.89 452.48,208.71 C450.71,208.52 448.89,208.35 447.04,208.19 C445.18,208.03 443.28,207.88 441.35,207.74 C439.42,207.60 437.45,207.48 435.46,207.36 C433.46,207.25 431.42,207.15 429.36,207.06 C427.31,206.97 425.22,206.89 423.11,206.83 C421.00,206.76 418.86,206.71 416.71,206.67 C414.56,206.63 412.39,206.60 410.21,206.59 C408.03,206.58 405.83,206.57 403.62,206.59 C401.42,206.60 399.20,206.62 396.98,206.66 C394.76,206.70 392.53,206.74 390.31,206.81 C388.09,206.87 385.86,206.94 383.64,207.03 C381.42,207.12 379.21,207.22 377.00,207.33 C374.80,207.44 372.60,207.56 370.43,207.70 C368.25,207.84 366.08,207.98 363.94,208.14 C361.79,208.30 359.66,208.47 357.56,208.66 C355.46,208.84 355.25,208.65 351.33,209.24 C347.40,209.83 338.80,211.16 334.00,212.20 C329.20,213.24 325.55,214.53 322.50,215.50 C319.45,216.47 317.63,217.20 315.70,218.00 C313.77,218.80 312.27,219.67 310.90,220.30 C309.53,220.93 308.78,221.32 307.50,221.80 C306.22,222.28 304.78,222.73 303.20,223.20 C301.62,223.67 299.60,224.17 298.00,224.60 C296.40,225.03 294.85,225.43 293.60,225.80 C292.35,226.17 291.32,226.45 290.50,226.80 C289.68,227.15 289.00,227.72 288.70,227.90Z" fill="url(#bowlOut)"/>
<path d="M288.70,227.90 C288.77,227.98 288.91,228.12 289.09,228.39 C289.27,228.66 289.48,229.15 289.78,229.52 C290.08,229.89 290.45,230.26 290.89,230.63 C291.34,230.99 291.86,231.35 292.44,231.70 C293.03,232.06 293.68,232.41 294.41,232.75 C295.13,233.10 295.93,233.43 296.79,233.76 C297.65,234.09 298.58,234.42 299.57,234.74 C300.56,235.05 301.62,235.36 302.75,235.66 C303.87,235.96 305.05,236.26 306.30,236.54 C307.54,236.83 308.85,237.10 310.21,237.37 C311.57,237.64 312.99,237.89 314.47,238.14 C315.94,238.39 317.47,238.63 319.05,238.85 C320.63,239.08 322.26,239.30 323.94,239.51 C325.62,239.71 327.35,239.91 329.12,240.09 C330.89,240.28 332.71,240.45 334.56,240.61 C336.42,240.77 338.32,240.92 340.25,241.06 C342.18,241.20 344.15,241.32 346.14,241.44 C348.14,241.55 350.18,241.65 352.24,241.74 C354.29,241.83 356.38,241.91 358.49,241.97 C360.60,242.04 362.74,242.09 364.89,242.13 C367.04,242.17 369.21,242.20 371.39,242.21 C373.57,242.22 375.77,242.23 377.98,242.21 C380.18,242.20 382.40,242.18 384.62,242.14 C386.84,242.10 389.07,242.06 391.29,241.99 C393.51,241.93 395.74,241.86 397.96,241.77 C400.18,241.68 402.39,241.58 404.60,241.47 C406.80,241.36 409.00,241.24 411.17,241.10 C413.35,240.96 415.52,240.82 417.66,240.66 C419.81,240.50 421.94,240.33 424.04,240.14 C426.14,239.96 428.22,239.77 430.27,239.56 C432.32,239.36 434.35,239.14 436.34,238.92 C438.33,238.69 440.29,238.46 442.21,238.21 C444.13,237.97 446.01,237.71 447.85,237.45 C449.70,237.18 451.50,236.91 453.26,236.62 C455.02,236.34 456.73,236.05 458.40,235.75 C460.06,235.45 461.68,235.14 463.24,234.83 C464.81,234.51 466.32,234.19 467.78,233.86 C469.24,233.53 470.64,233.19 471.99,232.85 C473.33,232.51 474.62,232.16 475.85,231.81 C477.08,231.45 478.24,231.09 479.35,230.73 C480.45,230.37 481.49,230.00 482.46,229.63 C483.44,229.26 484.35,228.88 485.19,228.50 C486.03,228.12 486.80,227.74 487.51,227.36 C488.21,226.98 488.85,226.59 489.41,226.20 C489.98,225.82 490.47,225.43 490.90,225.04 C491.32,224.65 491.67,224.26 491.95,223.87 C492.23,223.48 492.44,223.10 492.57,222.71 C492.71,222.32 492.73,221.74 492.76,221.55 C492.72,221.36 492.67,220.79 492.51,220.41 C492.35,220.03 492.12,219.65 491.82,219.28 C491.52,218.91 491.15,218.54 490.71,218.17 C490.26,217.81 489.74,217.45 489.16,217.10 C488.57,216.74 487.92,216.39 487.19,216.05 C486.47,215.70 485.67,215.37 484.81,215.04 C483.95,214.71 483.02,214.38 482.03,214.06 C481.04,213.75 479.98,213.44 478.85,213.14 C477.73,212.84 476.55,212.54 475.30,212.26 C474.06,211.97 472.75,211.70 471.39,211.43 C470.03,211.16 468.61,210.91 467.13,210.66 C465.66,210.41 464.13,210.17 462.55,209.95 C460.97,209.72 459.34,209.50 457.66,209.29 C455.98,209.09 454.25,208.89 452.48,208.71 C450.71,208.52 448.89,208.35 447.04,208.19 C445.18,208.03 443.28,207.88 441.35,207.74 C439.42,207.60 437.45,207.48 435.46,207.36 C433.46,207.25 431.42,207.15 429.36,207.06 C427.31,206.97 425.22,206.89 423.11,206.83 C421.00,206.76 418.86,206.71 416.71,206.67 C414.56,206.63 412.39,206.60 410.21,206.59 C408.03,206.58 405.83,206.57 403.62,206.59 C401.42,206.60 399.20,206.62 396.98,206.66 C394.76,206.70 392.53,206.74 390.31,206.81 C388.09,206.87 385.86,206.94 383.64,207.03 C381.42,207.12 379.21,207.22 377.00,207.33 C374.80,207.44 372.60,207.56 370.43,207.70 C368.25,207.84 366.08,207.98 363.94,208.14 C361.79,208.30 359.66,208.47 357.56,208.66 C355.46,208.84 355.25,208.65 351.33,209.24 C347.40,209.83 338.80,211.16 334.00,212.20 C329.20,213.24 325.55,214.53 322.50,215.50 C319.45,216.47 317.63,217.20 315.70,218.00 C313.77,218.80 312.27,219.67 310.90,220.30 C309.53,220.93 308.78,221.32 307.50,221.80 C306.22,222.28 304.78,222.73 303.20,223.20 C301.62,223.67 299.60,224.17 298.00,224.60 C296.40,225.03 294.85,225.43 293.60,225.80 C292.35,226.17 291.32,226.45 290.50,226.80 C289.68,227.15 289.00,227.72 288.70,227.90Z" fill="url(#bowlIn)"/>
<path d="M346,274 C360,270.5 375,269.8 390,270 C405,270.3 420,271.2 430,273.6 C423,276 418,277.6 412.3,279 C404,280.6 396,281.4 389.3,281.4 C380,281.2 372,280.6 366.2,280 C358,279 351,277.5 346,274Z" fill="#3f8ec4" opacity="0.8"/>
<path d="M390.5,187.8 L389.5,281" stroke="#343e4c" stroke-width="1"/>
<path d="M389.5,281 L341.3,322.7" stroke="#333333" stroke-width="1"/>
<path d="M389.5,281 L419,253.8" stroke="#2a4a70" stroke-width="1"/>
<path d="M309.2,267.8 L389.5,281 L484,292.1" fill="none" stroke="#333333" stroke-width="1.2"/>
<defs><filter id="pb" x="-20%" y="-20%" width="140%" height="140%"><feGaussianBlur stdDeviation="0.5"/></filter></defs>
<g filter="url(#pb)">
<path d="M328,253.8 C332,254.3 335.2,259 337.6,263.8 C340,268.4 342,272 341.6,275.6 C340.2,280 335.4,283.6 331.2,285.6 C328.2,287.4 325.6,288.2 324.4,287.2 C321.4,284 319.4,279 319.3,273 C319.5,266 322.4,257 328,253.8Z" fill="#e2682c"/>
<path d="M323.6,259 C324.5,255.5 326.5,254.2 328.2,254.2 C330.5,254.4 332.6,256.5 333.2,259.5 C333.6,263 331.4,265.8 328.4,265.8 C325.4,265.8 323.3,262.8 323.6,259Z" fill="#d82a18"/>
<path d="M324.5,256.5 C326,254.5 329.5,253.8 331.5,255.8" fill="none" stroke="#5a1818" stroke-width="1.2"/>
<ellipse cx="324.8" cy="276.5" rx="2.8" ry="2.6" fill="#e03a22"/>
<ellipse cx="330.5" cy="281" rx="3.2" ry="2.2" fill="#d83020"/>
<ellipse cx="332" cy="271" rx="2" ry="1.6" fill="#d84020"/>
<path d="M336,270.5 L340.5,272.5 L341.6,275.6 L339.2,280.5 L335.5,282.5 L333.5,279 L336.5,276Z" fill="#3c3a5c"/>
<path d="M320.5,281 C321.5,284.5 323.5,287.2 325,287.8" fill="none" stroke="#4a2a2a" stroke-width="1"/>
</g>
<text x="393.1" y="203.6" font-size="20" fill="#000" color="#000">z</text>
<text x="483.2" y="296" font-size="20" fill="#000" color="#000">y</text>
<text x="340.9" y="336.6" font-size="20" fill="#000" color="#000">x</text>
<path d="M295.20,502.00 L295.23,501.48 L295.33,500.81 L295.50,500.07 L295.73,499.27 L296.02,498.44 L296.39,497.57 L296.81,496.68 L297.30,495.77 L297.86,494.85 L298.48,493.90 L299.17,492.95 L299.91,491.98 L300.72,491.01 L301.60,490.03 L302.53,489.05 L303.53,488.07 L304.58,487.09 L305.70,486.11 L306.87,485.13 L308.10,484.15 L309.39,483.19 L310.74,482.23 L312.14,481.27 L313.59,480.33 L315.10,479.40 L316.66,478.48 L318.27,477.57 L319.94,476.68 L321.65,475.81 L323.41,474.95 L325.21,474.11 L327.06,473.29 L328.96,472.49 L330.90,471.70 L332.88,470.94 L334.90,470.21 L336.96,469.49 L339.05,468.80 L341.18,468.14 L343.35,467.50 L345.55,466.89 L347.78,466.30 L350.04,465.74 L352.33,465.22 L354.65,464.72 L356.99,464.25 L359.35,463.81 L361.74,463.40 L364.15,463.02 L366.58,462.67 L369.02,462.36 L371.48,462.07 L373.95,461.82 L376.44,461.60 L378.93,461.42 L381.43,461.27 L383.94,461.15 L386.46,461.07 L388.98,461.02 L391.50,461.00 L394.02,461.02 L396.54,461.07 L399.06,461.15 L401.57,461.27 L404.07,461.42 L406.56,461.60 L409.05,461.82 L411.52,462.07 L413.98,462.36 L416.42,462.67 L418.85,463.02 L421.26,463.40 L423.65,463.81 L426.01,464.25 L428.35,464.72 L430.67,465.22 L432.96,465.74 L435.22,466.30 L437.45,466.89 L439.65,467.50 L441.82,468.14 L443.95,468.80 L446.04,469.49 L448.10,470.21 L450.12,470.94 L452.10,471.70 L454.04,472.49 L455.94,473.29 L457.79,474.11 L459.59,474.95 L461.35,475.81 L463.06,476.68 L464.73,477.57 L466.34,478.48 L467.90,479.40 L469.41,480.33 L470.86,481.27 L472.26,482.23 L473.61,483.19 L474.90,484.15 L476.13,485.13 L477.30,486.11 L478.42,487.09 L479.47,488.07 L480.47,489.05 L481.40,490.03 L482.28,491.01 L483.09,491.98 L483.83,492.95 L484.52,493.90 L485.14,494.85 L485.70,495.77 L486.19,496.68 L486.61,497.57 L486.98,498.44 L487.27,499.27 L487.50,500.07 L487.67,500.81 L487.77,501.48 L487.80,502.00 L487.77,503.26 L487.67,504.51 L487.50,505.77 L487.27,507.02 L486.98,508.27 L486.61,509.51 L486.19,510.75 L485.70,511.98 L485.14,513.21 L484.52,514.42 L483.83,515.63 L483.09,516.83 L482.28,518.02 L481.40,519.20 L480.47,520.37 L479.47,521.52 L478.42,522.66 L477.30,523.79 L476.13,524.90 L474.90,526.00 L473.61,527.08 L472.26,528.14 L470.86,529.19 L469.41,530.21 L467.90,531.22 L466.34,532.21 L464.73,533.17 L463.06,534.12 L461.35,535.04 L459.59,535.94 L457.79,536.82 L455.94,537.67 L454.04,538.50 L452.10,539.30 L450.12,540.08 L448.10,540.83 L446.04,541.56 L443.95,542.26 L441.82,542.93 L439.65,543.57 L437.45,544.18 L435.22,544.77 L432.96,545.32 L430.67,545.85 L428.35,546.35 L426.01,546.81 L423.65,547.25 L421.26,547.65 L418.85,548.02 L416.42,548.36 L413.98,548.67 L411.52,548.95 L409.05,549.20 L406.56,549.41 L404.07,549.59 L401.57,549.74 L399.06,549.85 L396.54,549.93 L394.02,549.98 L391.50,550.00 L388.98,549.98 L386.46,549.93 L383.94,549.85 L381.43,549.74 L378.93,549.59 L376.44,549.41 L373.95,549.20 L371.48,548.95 L369.02,548.67 L366.58,548.36 L364.15,548.02 L361.74,547.65 L359.35,547.25 L356.99,546.81 L354.65,546.35 L352.33,545.85 L350.04,545.32 L347.78,544.77 L345.55,544.18 L343.35,543.57 L341.18,542.93 L339.05,542.26 L336.96,541.56 L334.90,540.83 L332.88,540.08 L330.90,539.30 L328.96,538.50 L327.06,537.67 L325.21,536.82 L323.41,535.94 L321.65,535.04 L319.94,534.12 L318.27,533.17 L316.66,532.21 L315.10,531.22 L313.59,530.21 L312.14,529.19 L310.74,528.14 L309.39,527.08 L308.10,526.00 L306.87,524.90 L305.70,523.79 L304.58,522.66 L303.53,521.52 L302.53,520.37 L301.60,519.20 L300.72,518.02 L299.91,516.83 L299.17,515.63 L298.48,514.42 L297.86,513.21 L297.30,511.98 L296.81,510.75 L296.39,509.51 L296.02,508.27 L295.73,507.02 L295.50,505.77 L295.33,504.51 L295.23,503.26Z" fill="url(#grayC)"/>
<path d="M386.30,470.00 C385.42,471.83 382.55,476.00 381.00,481.00 C379.45,486.00 378.00,492.67 377.00,500.00 C376.00,507.33 375.40,516.78 375.00,525.00 C374.60,533.22 374.67,545.25 374.60,549.30" fill="none" stroke="#333333" stroke-width="1.2"/>
<path d="M386.30,470.00 C391.08,470.33 405.22,469.50 415.00,472.00 C424.78,474.50 436.67,480.17 445.00,485.00 C453.33,489.83 459.08,494.92 465.00,501.00 C470.92,507.08 477.92,518.08 480.50,521.50" fill="none" stroke="#333333" stroke-width="1.2"/>
<path d="M288.40,408.30 C289.77,409.62 293.40,413.30 296.60,416.20 C299.80,419.10 303.93,422.68 307.60,425.70 C311.27,428.72 314.92,431.42 318.60,434.30 C322.28,437.18 326.28,440.50 329.70,443.00 C333.12,445.50 336.22,447.47 339.10,449.30 C341.98,451.13 344.37,452.55 347.00,454.00 C349.63,455.45 352.07,456.83 354.90,458.00 C357.73,459.17 360.65,460.08 364.00,461.00 C367.35,461.92 370.50,462.92 375.00,463.50 C379.50,464.08 385.67,464.33 391.00,464.50 C396.33,464.67 402.17,464.67 407.00,464.50 C411.83,464.33 416.27,464.07 420.00,463.50 C423.73,462.93 426.25,462.15 429.40,461.10 C432.55,460.05 435.48,458.90 438.90,457.20 C442.32,455.50 446.22,453.27 449.90,450.90 C453.58,448.53 457.32,445.90 461.00,443.00 C464.68,440.10 468.33,436.92 472.00,433.50 C475.67,430.08 479.53,426.03 483.00,422.50 C486.47,418.97 491.17,414.00 492.80,412.30 C492.75,412.09 492.72,411.45 492.59,411.03 C492.45,410.61 492.24,410.18 491.96,409.76 C491.67,409.34 491.32,408.92 490.89,408.49 C490.46,408.07 489.97,407.65 489.40,407.24 C488.83,406.82 488.19,406.40 487.48,405.99 C486.77,405.58 485.99,405.17 485.15,404.76 C484.30,404.36 483.39,403.95 482.41,403.56 C481.43,403.16 480.39,402.77 479.28,402.38 C478.17,402.00 477.00,401.61 475.77,401.24 C474.54,400.87 473.24,400.50 471.89,400.14 C470.55,399.78 469.13,399.42 467.67,399.08 C466.21,398.73 464.69,398.40 463.12,398.07 C461.55,397.74 459.93,397.42 458.26,397.11 C456.59,396.80 454.87,396.50 453.10,396.21 C451.34,395.92 449.53,395.64 447.68,395.37 C445.83,395.10 443.94,394.84 442.02,394.59 C440.09,394.34 438.13,394.10 436.13,393.88 C434.14,393.65 432.11,393.44 430.05,393.24 C428.00,393.04 425.91,392.85 423.80,392.67 C421.70,392.49 419.56,392.33 417.41,392.18 C415.26,392.03 413.09,391.89 410.90,391.76 C408.72,391.64 406.52,391.53 404.31,391.43 C402.10,391.33 399.88,391.25 397.66,391.18 C395.44,391.10 393.20,391.05 390.98,391.00 C388.75,390.96 386.52,390.93 384.29,390.91 C382.07,390.90 379.85,390.90 377.64,390.91 C375.43,390.92 373.22,390.95 371.04,390.98 C368.85,391.02 366.67,391.08 364.52,391.14 C362.36,391.21 360.22,391.29 358.11,391.39 C356.00,391.48 353.91,391.59 351.85,391.71 C349.78,391.83 347.75,391.96 345.75,392.11 C343.74,392.26 341.77,392.42 339.84,392.59 C337.90,392.76 336.00,392.95 334.15,393.15 C332.29,393.34 330.47,393.55 328.70,393.78 C326.92,394.00 325.19,394.23 323.51,394.48 C321.83,394.72 320.20,394.98 318.61,395.24 C317.03,395.51 315.50,395.79 314.03,396.08 C312.55,396.36 311.13,396.66 309.76,396.97 C308.40,397.28 307.09,397.59 305.85,397.92 C304.61,398.24 303.42,398.58 302.30,398.92 C301.18,399.26 300.12,399.62 299.12,399.97 C298.13,400.33 297.20,400.70 296.34,401.07 C295.48,401.44 294.69,401.82 293.96,402.21 C293.24,402.59 292.58,402.98 292.00,403.38 C291.41,403.77 290.90,404.17 290.46,404.58 C290.01,404.98 289.64,405.39 289.34,405.80 C289.04,406.21 288.82,406.63 288.66,407.04 C288.51,407.46 288.46,408.09 288.42,408.30Z" fill="url(#bowlOut)"/>
<path d="M288.42,408.30 C288.45,408.51 288.48,409.15 288.61,409.57 C288.75,409.99 288.96,410.42 289.24,410.84 C289.53,411.26 289.88,411.68 290.31,412.11 C290.74,412.53 291.23,412.95 291.80,413.36 C292.37,413.78 293.01,414.20 293.72,414.61 C294.43,415.02 295.21,415.43 296.05,415.84 C296.90,416.24 297.81,416.65 298.79,417.04 C299.77,417.44 300.81,417.83 301.92,418.22 C303.03,418.60 304.20,418.99 305.43,419.36 C306.66,419.73 307.96,420.10 309.31,420.46 C310.65,420.82 312.07,421.18 313.53,421.52 C314.99,421.87 316.51,422.20 318.08,422.53 C319.65,422.86 321.27,423.18 322.94,423.49 C324.61,423.80 326.33,424.10 328.10,424.39 C329.86,424.68 331.67,424.96 333.52,425.23 C335.37,425.50 337.26,425.76 339.18,426.01 C341.11,426.26 343.07,426.50 345.07,426.72 C347.06,426.95 349.09,427.16 351.15,427.36 C353.20,427.56 355.29,427.75 357.40,427.93 C359.50,428.11 361.64,428.27 363.79,428.42 C365.94,428.57 368.11,428.71 370.30,428.84 C372.48,428.96 374.68,429.07 376.89,429.17 C379.10,429.27 381.32,429.35 383.54,429.42 C385.76,429.50 388.00,429.55 390.22,429.60 C392.45,429.64 394.68,429.67 396.91,429.69 C399.13,429.70 401.35,429.70 403.56,429.69 C405.77,429.68 407.98,429.65 410.16,429.62 C412.35,429.58 414.53,429.52 416.68,429.46 C418.84,429.39 420.98,429.31 423.09,429.21 C425.20,429.12 427.29,429.01 429.35,428.89 C431.42,428.77 433.45,428.64 435.45,428.49 C437.46,428.34 439.43,428.18 441.36,428.01 C443.30,427.84 445.20,427.65 447.05,427.45 C448.91,427.26 450.73,427.05 452.50,426.82 C454.28,426.60 456.01,426.37 457.69,426.12 C459.37,425.88 461.00,425.62 462.59,425.36 C464.17,425.09 465.70,424.81 467.17,424.52 C468.65,424.24 470.07,423.94 471.44,423.63 C472.80,423.32 474.11,423.01 475.35,422.68 C476.59,422.36 477.78,422.02 478.90,421.68 C480.02,421.34 481.08,420.98 482.08,420.63 C483.07,420.27 484.00,419.90 484.86,419.53 C485.72,419.16 486.51,418.78 487.24,418.39 C487.96,418.01 488.62,417.62 489.20,417.22 C489.79,416.83 490.30,416.43 490.74,416.02 C491.19,415.62 491.56,415.21 491.86,414.80 C492.16,414.39 492.38,413.97 492.54,413.56 C492.69,413.14 492.74,412.51 492.78,412.30 C492.75,412.09 492.72,411.45 492.59,411.03 C492.45,410.61 492.24,410.18 491.96,409.76 C491.67,409.34 491.32,408.92 490.89,408.49 C490.46,408.07 489.97,407.65 489.40,407.24 C488.83,406.82 488.19,406.40 487.48,405.99 C486.77,405.58 485.99,405.17 485.15,404.76 C484.30,404.36 483.39,403.95 482.41,403.56 C481.43,403.16 480.39,402.77 479.28,402.38 C478.17,402.00 477.00,401.61 475.77,401.24 C474.54,400.87 473.24,400.50 471.89,400.14 C470.55,399.78 469.13,399.42 467.67,399.08 C466.21,398.73 464.69,398.40 463.12,398.07 C461.55,397.74 459.93,397.42 458.26,397.11 C456.59,396.80 454.87,396.50 453.10,396.21 C451.34,395.92 449.53,395.64 447.68,395.37 C445.83,395.10 443.94,394.84 442.02,394.59 C440.09,394.34 438.13,394.10 436.13,393.88 C434.14,393.65 432.11,393.44 430.05,393.24 C428.00,393.04 425.91,392.85 423.80,392.67 C421.70,392.49 419.56,392.33 417.41,392.18 C415.26,392.03 413.09,391.89 410.90,391.76 C408.72,391.64 406.52,391.53 404.31,391.43 C402.10,391.33 399.88,391.25 397.66,391.18 C395.44,391.10 393.20,391.05 390.98,391.00 C388.75,390.96 386.52,390.93 384.29,390.91 C382.07,390.90 379.85,390.90 377.64,390.91 C375.43,390.92 373.22,390.95 371.04,390.98 C368.85,391.02 366.67,391.08 364.52,391.14 C362.36,391.21 360.22,391.29 358.11,391.39 C356.00,391.48 353.91,391.59 351.85,391.71 C349.78,391.83 347.75,391.96 345.75,392.11 C343.74,392.26 341.77,392.42 339.84,392.59 C337.90,392.76 336.00,392.95 334.15,393.15 C332.29,393.34 330.47,393.55 328.70,393.78 C326.92,394.00 325.19,394.23 323.51,394.48 C321.83,394.72 320.20,394.98 318.61,395.24 C317.03,395.51 315.50,395.79 314.03,396.08 C312.55,396.36 311.13,396.66 309.76,396.97 C308.40,397.28 307.09,397.59 305.85,397.92 C304.61,398.24 303.42,398.58 302.30,398.92 C301.18,399.26 300.12,399.62 299.12,399.97 C298.13,400.33 297.20,400.70 296.34,401.07 C295.48,401.44 294.69,401.82 293.96,402.21 C293.24,402.59 292.58,402.98 292.00,403.38 C291.41,403.77 290.90,404.17 290.46,404.58 C290.01,404.98 289.64,405.39 289.34,405.80 C289.04,406.21 288.82,406.63 288.66,407.04 C288.51,407.46 288.46,408.09 288.42,408.30Z" fill="url(#bowlIn)"/>
<defs><radialGradient id="lensG" cx="0.55" cy="0.5" r="0.55"><stop offset="0" stop-color="#8a4cf0"/><stop offset="0.5" stop-color="#6a5ae6"/><stop offset="1" stop-color="#3f78cc"/></radialGradient><filter id="bl2" x="-30%" y="-50%" width="160%" height="200%"><feGaussianBlur stdDeviation="1.5"/></filter></defs>
<path d="M355.00,458.50 C356.83,457.97 361.83,456.12 366.00,455.30 C370.17,454.48 375.17,453.95 380.00,453.60 C384.83,453.25 390.00,453.05 395.00,453.20 C400.00,453.35 404.50,453.45 410.00,454.50 C415.50,455.55 427.17,457.50 428.00,459.50 C428.83,461.50 419.67,464.62 415.00,466.50 C410.33,468.38 404.67,469.97 400.00,470.80 C395.33,471.63 391.67,471.97 387.00,471.50 C382.33,471.03 377.33,470.17 372.00,468.00 C366.67,465.83 357.83,460.08 355.00,458.50Z" fill="url(#lensG)" opacity="0.92"/>
<ellipse cx="396" cy="462.5" rx="17" ry="6" fill="#9a48f0" opacity="0.7" filter="url(#bl2)"/>
<ellipse cx="400" cy="462" rx="10" ry="2.6" fill="#f060f0" opacity="0.8" filter="url(#bl2)"/>
<ellipse cx="388" cy="465" rx="5" ry="2.5" fill="#d070f0" opacity="0.5" filter="url(#bl2)"/>
<path d="M390.8,375 L390.8,467.5" stroke="#3e4652" stroke-width="1"/>
<path d="M386.3,470 L341.7,508.7" stroke="#333333" stroke-width="1"/>
<path d="M386.3,470 L418.4,437" stroke="#2a4a70" stroke-width="1" opacity="0.85"/>
<path d="M310,452.8 L386.3,470 L491.1,479.2" fill="none" stroke="#333333" stroke-width="1.1"/>
</svg>
</body></html>
